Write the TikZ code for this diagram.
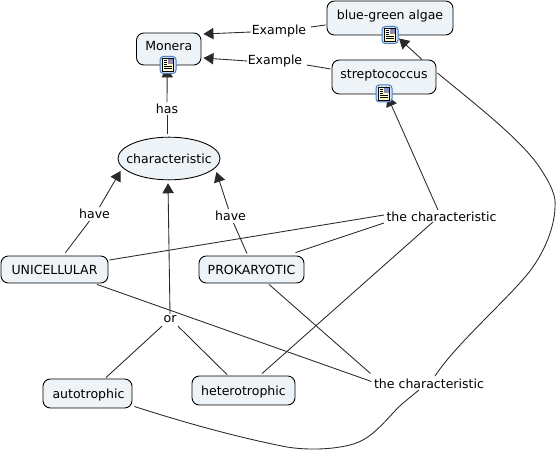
\documentclass[tikz,border=0pt]{standalone}
\usepackage{fontspec}
\setmainfont{DejaVu Sans}
\usetikzlibrary{arrows.meta,calc,shapes.geometric}
\definecolor{nodefill}{HTML}{EDF3F6}
\definecolor{linecol}{HTML}{2A2A2A}
\definecolor{iconedge}{RGB}{74,124,190}
\definecolor{iconbg}{RGB}{214,228,245}
\definecolor{iconpaper}{RGB}{255,252,205}
\definecolor{iconpic}{RGB}{120,140,200}
\definecolor{iconred}{RGB}{220,120,110}
\tikzset{
  x=0.75pt,y=-0.75pt,
  concept/.style={draw=black,fill=nodefill,line width=0.65pt,rounded corners=5.5pt,inner sep=0pt,font=\fontsize{9.4}{11}\selectfont,text depth=0pt,anchor=center},
  oval/.style={ellipse,draw=black,fill=nodefill,line width=0.65pt,inner xsep=-6pt,inner ysep=0pt,font=\fontsize{9.4}{11}\selectfont,minimum width=76.5pt,minimum height=32pt},
  linker/.style={inner sep=1pt,font=\fontsize{9.4}{11}\selectfont},
  conn/.style={draw=linecol,line width=0.65pt},
  arr/.style={conn,-{Triangle[length=7.5pt,width=8.5pt]}},
  iconbox/.style={draw=none,inner sep=0pt,minimum size=1pt}
}
\newcommand{\conceptnode}[6]{% name x0 y0 x1 y1 text
  \node[concept,minimum width={(#4-#2)*0.75pt},minimum height={(#5-#3)*0.75pt}] (#1) at ({(#2+#4)/2},{(#3+#5)/2}) {#6};
}
\newcommand{\docicon}[3]{% name cx cy
  \begin{scope}[shift={(#2,#3)}]
    \node[iconbox] (#1) at (0,0) {};
    \draw[draw=iconedge,fill=iconbg,line width=0.75pt,rounded corners=2.5pt] (-8,-8.5) rectangle (8,8.5);
    \draw[fill=iconpaper,draw=black,line width=0.45pt] (-5.5,-6.5) rectangle (5.5,6.5);
    \fill[iconpic] (0,-5.5) rectangle (4.5,-0.5);
    \fill[iconred] (1.5,-3.5) rectangle (3.5,-1);
    \draw[black,line width=0.6pt] (-4,-4.5)--(-1,-4.5) (-4,-2.5)--(-1,-2.5) (-4,-0.5)--(-1,-0.5) (-4,1.5)--(4,1.5) (-4,3.5)--(4,3.5);
  \end{scope}
}
\begin{document}
\begin{tikzpicture}
\useasboundingbox (0,0) rectangle (558,452);
% nodes
\conceptnode{monera}{136.5}{33}{201}{65}{\raisebox{4pt}{Monera}}
\conceptnode{algae}{327}{1}{453}{35}{\raisebox{4.5pt}{blue-green algae}}
\conceptnode{strep}{332}{60}{436}{94}{\raisebox{4pt}{streptococcus}}
\node[oval] (char) at (169,158.5) {characteristic};
\conceptnode{uni}{1}{256}{108}{283}{UNICELLULAR\hspace{3.5pt}}
\conceptnode{pro}{199}{256}{304}{283}{PROKARYOTIC}
\conceptnode{auto}{43}{379}{132}{408}{\hspace{1.5pt}autotrophic}
\conceptnode{hetero}{192}{376}{295}{405}{heterotrophic}
% linking phrases
\node[linker] (exa) at (279,31) {Example};
\node[linker] (exb) at (275,61) {Example};
\node[linker] (has) at (167,108.5) {has};
\node[linker] (hava) at (94.5,213.5) {have};
\node[linker] (havb) at (230.5,215.5) {have};
\node[linker] (orl) at (170,319) {or};
\node[linker] (tca) at (441.5,216.5) {the characteristic};
\node[linker] (tcb) at (429,383.5) {the characteristic};
% connectors
\draw[conn] ($(algae.west)+(-1,7)$) -- ($(exa.east)+(3,-4)$);
\draw[arr] ($(exa.west)+(1,1)$) -- ($(monera.east)+(2,-15)$);
\draw[conn] ($(strep.west)+(-1,-8)$) -- ($(exb.east)+(3,4)$);
\draw[arr] ($(exb.west)+(1,0)$) -- ($(monera.east)+(2,9)$);
\draw[arr] (has.north) -- ($(monera.south)+(-1.5,2)$);
\draw[conn] (has.south) -- ($(char.north)+(-2,-3)$);
\draw[conn] ($(uni.north)+(11,-3)$) -- ($(hava.south)+(-5,1)$);
\draw[arr] ($(hava.north)+(5,0)$) -- ($(char.west)+(3,12.5)$);
\draw[conn] ($(pro.north)+(-4.5,-2)$) -- ($(havb.south)+(3,1)$);
\draw[arr] ($(havb.north)+(-2,0)$) -- ($(char.east)+(-4,13.5)$);
\draw[arr] (orl.north) -- ($(char.south)+(-1,3)$);
\draw[conn] ($(uni.east)+(1,-9.5)$) -- ($(tca.west)+(-1,-1.5)$);
\draw[conn] ($(pro.north)+(44,-3)$) -- ($(tca.west)+(-1,6.5)$);
\draw[conn] (hetero.north)++(18.5,-2) -- ($(tca.south)+(-8.5,-1)$);
\draw[arr] ($(tca.north)+(-3.5,0)$) -- ($(strep.south)+(3.5,2)$);
\draw[arr] ($(strep.north)+(38,0)$) -- ($(algae.south)+(9,3)$);
\draw[conn] ($(orl.south west)+(0,2)$) -- ($(auto.north)+(18.5,-1)$);
\draw[conn] ($(orl.south east)+(0,2)$) -- ($(hetero.north)+(-16.5,-1)$);
\draw[conn] ($(uni.south)+(42.5,1)$) -- ($(tcb.west)+(-1,-2)$);
\draw[conn] ($(pro.south)+(17.5,1)$) -- ($(tcb.west)+(-2,-10)$);
\draw[conn] (strep.east)++(1,-4) .. controls (470,100) and (522,140) .. (540,168) .. controls (552,186) and (556,197) .. (555,206) .. controls (555,222) and (548,247) .. (530,271) .. controls (510,297) and (455,345) .. ($(tcb.north)+(6,-1)$);
\draw[conn] ($(auto.east)+(2,13)$) .. controls (170,418) and (230,436) .. (287,447) .. controls (305,450) and (330,450) .. (350,445) .. controls (358,443) and (366,439) .. (373,433) .. controls (385,423) and (393,412) .. (402,404) -- ($(tcb.south)+(-10,0)$);
% note icons, on top of the arrowheads
\docicon{iconm}{168}{65}
\docicon{icona}{390}{35}
\docicon{icons}{384}{93.5}
\end{tikzpicture}
\end{document}
